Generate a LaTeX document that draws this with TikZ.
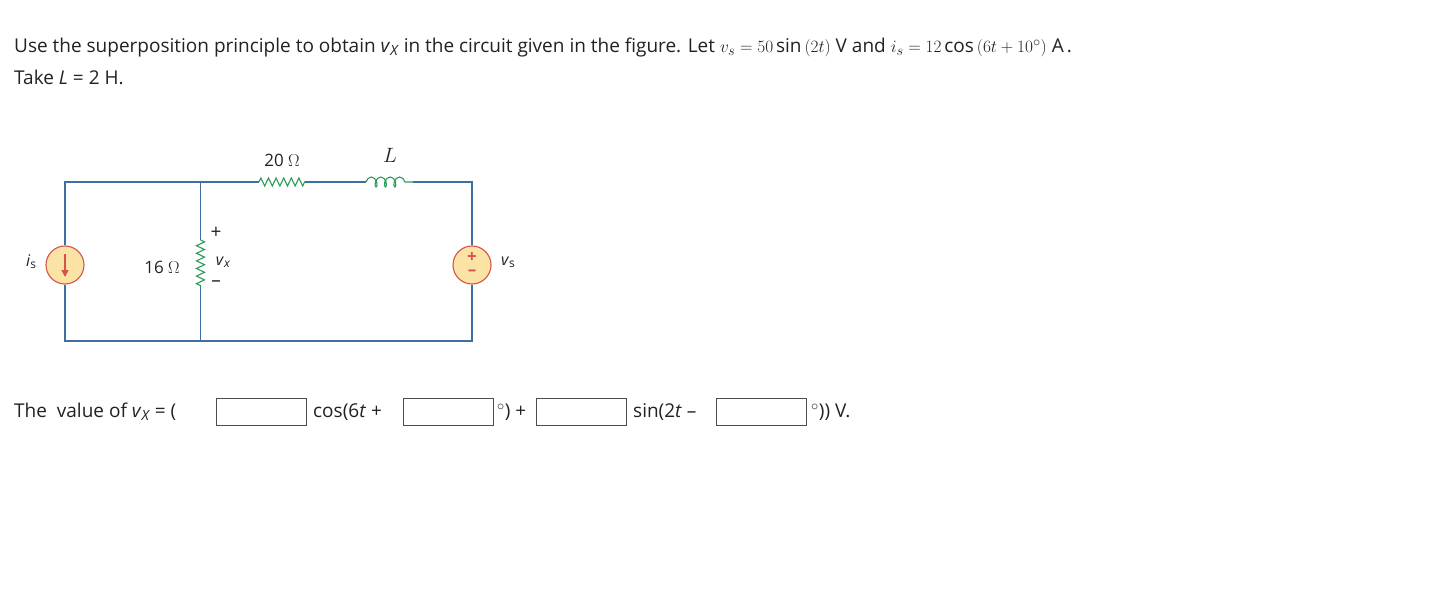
\documentclass[tikz,border=0pt]{standalone}
\usepackage{fontspec}
\setmainfont{Open Sans}
\newfontfamily\mathserif{Latin Modern Roman}
\usetikzlibrary{decorations.pathmorphing,arrows.meta}
\definecolor{wire}{HTML}{3F6FA0}
\definecolor{comp}{HTML}{2E9A5A}
\definecolor{srcfill}{HTML}{FBE3A6}
\definecolor{srcedge}{HTML}{D4544A}
\definecolor{txt}{HTML}{222222}
\tikzset{
 wr/.style={wire, line width=1.2pt},
 res/.style={comp, line width=1.1pt, decorate, decoration={zigzag, segment length=7.6pt, amplitude=4pt}},
 ind/.style={comp, line width=1.1pt, decorate, decoration={coil, aspect=0.6, segment length=9.4pt, amplitude=5pt}},
 src/.style={circle, draw=srcedge, fill=srcfill, line width=1.1pt, minimum size=38pt, inner sep=0pt},
 lab/.style={text=txt, font=\fontsize{19}{22}\selectfont, inner sep=0pt},
 ansbox/.style={draw=black!70, line width=0.8pt, minimum width=90pt, minimum height=27pt, inner sep=0pt},
}
\begin{document}
\begin{tikzpicture}[x=1pt,y=-1pt]
\useasboundingbox (0,0) rectangle (1435,604);
\fill[white] (0,0) rectangle (1435,604);
% text
\node[lab, anchor=base west] (t1) at (14,53) {Use the superposition principle to obtain \textit{v}\raisebox{-3pt}{\fontsize{14}{14}\selectfont\textit{X}} in the circuit given in the figure. Let $v_s = 50\sin{(2t)}\ \mathrm{V}$ and $i_s = 12\cos{(6t+10^\circ)}\ \mathrm{A}$\,.};
\node[lab, anchor=base west] (t2) at (14,85) {Take \textit{L} = 2 H.};
% coordinates
\coordinate (tl) at (65,182);
\coordinate (tm) at (200.5,182);
\coordinate (tr) at (472,182);
\coordinate (bl) at (65,341);
\coordinate (bm) at (200.5,341);
\coordinate (br) at (472,341);
\coordinate (r1a) at (259,182);
\coordinate (r1b) at (305,182);
\coordinate (l1a) at (366,182);
\coordinate (l1b) at (413,182);
\coordinate (r2a) at (200.5,240);
\coordinate (r2b) at (200.5,287);
\node[src] (is) at (65,265) {};
\node[src] (vs) at (472,265) {};
% wires
\draw[wr] (is.north) -- (tl) -- (r1a);
\draw[wr] (r1b) -- (l1a);
\draw[wr] (l1b) -- (tr) -- (vs.north);
\draw[wr] (vs.south) -- (br) -- (bl) -- (is.south);
\draw[wr] (tm) -- (r2a);
\draw[wr] (r2b) -- (bm);
\draw[res] (r1a) -- (r1b);
\draw[ind] (l1a) -- (l1b);
\draw[res] (r2a) -- (r2b);
% source symbols
\draw[srcedge, line width=1.6pt, -{Triangle[length=7pt,width=7pt]}] ([yshift=11pt]is.center) -- ([yshift=-12pt]is.center);
\node[text=srcedge, font=\fontsize{17}{17}\selectfont\bfseries, inner sep=0pt] (vp) at (472,257) {+};
\node[text=srcedge, font=\fontsize{17}{17}\selectfont\bfseries, inner sep=0pt] (vm) at (472,273) {--};
% labels
\node[lab, font=\fontsize{17}{20}\selectfont] (l20) at (282,160) {20 $\Omega$};
\node[lab, font=\fontsize{20}{20}\selectfont] (lL) at (390,155) {$L$};
\node[lab, font=\fontsize{17}{20}\selectfont] (l16) at (162,267) {16 $\Omega$};
\node[lab] (lplus) at (216,233) {+};
\node[lab] (lminus) at (216,284) {--};
\node[lab, font=\fontsize{16}{16}\selectfont] (lvx) at (223,262) {\textit{v}\raisebox{-2pt}{\fontsize{12}{12}\selectfont\textit{x}}};
\node[lab, font=\fontsize{16}{16}\selectfont] (lis) at (31,262) {\textit{i}\raisebox{-2pt}{\fontsize{12}{12}\selectfont s}};
\node[lab, font=\fontsize{16}{16}\selectfont] (lvs) at (508,262) {\textit{v}\raisebox{-2pt}{\fontsize{12}{12}\selectfont s}};
% answer line
\node[lab, anchor=base west] (a0) at (14,417) {The\ \ value of \textit{v}\raisebox{-3pt}{\fontsize{14}{14}\selectfont\textit{X}} = (};
\node[ansbox] (b1) at (261.5,411.5) {};
\node[lab, anchor=base west] (a1) at (313,417) {cos(6\textit{t} +};
\node[ansbox] (b2) at (448,411.5) {};
\node[lab, anchor=base west] (a2) at (497,417) {$^\circ$) +};
\node[ansbox] (b3) at (581.5,411.5) {};
\node[lab, anchor=base west] (a3) at (633,417) {sin(2\textit{t} --};
\node[ansbox] (b4) at (761,411.5) {};
\node[lab, anchor=base west] (a4) at (811,417) {$^\circ$)) V.};
\end{tikzpicture}
\end{document}
